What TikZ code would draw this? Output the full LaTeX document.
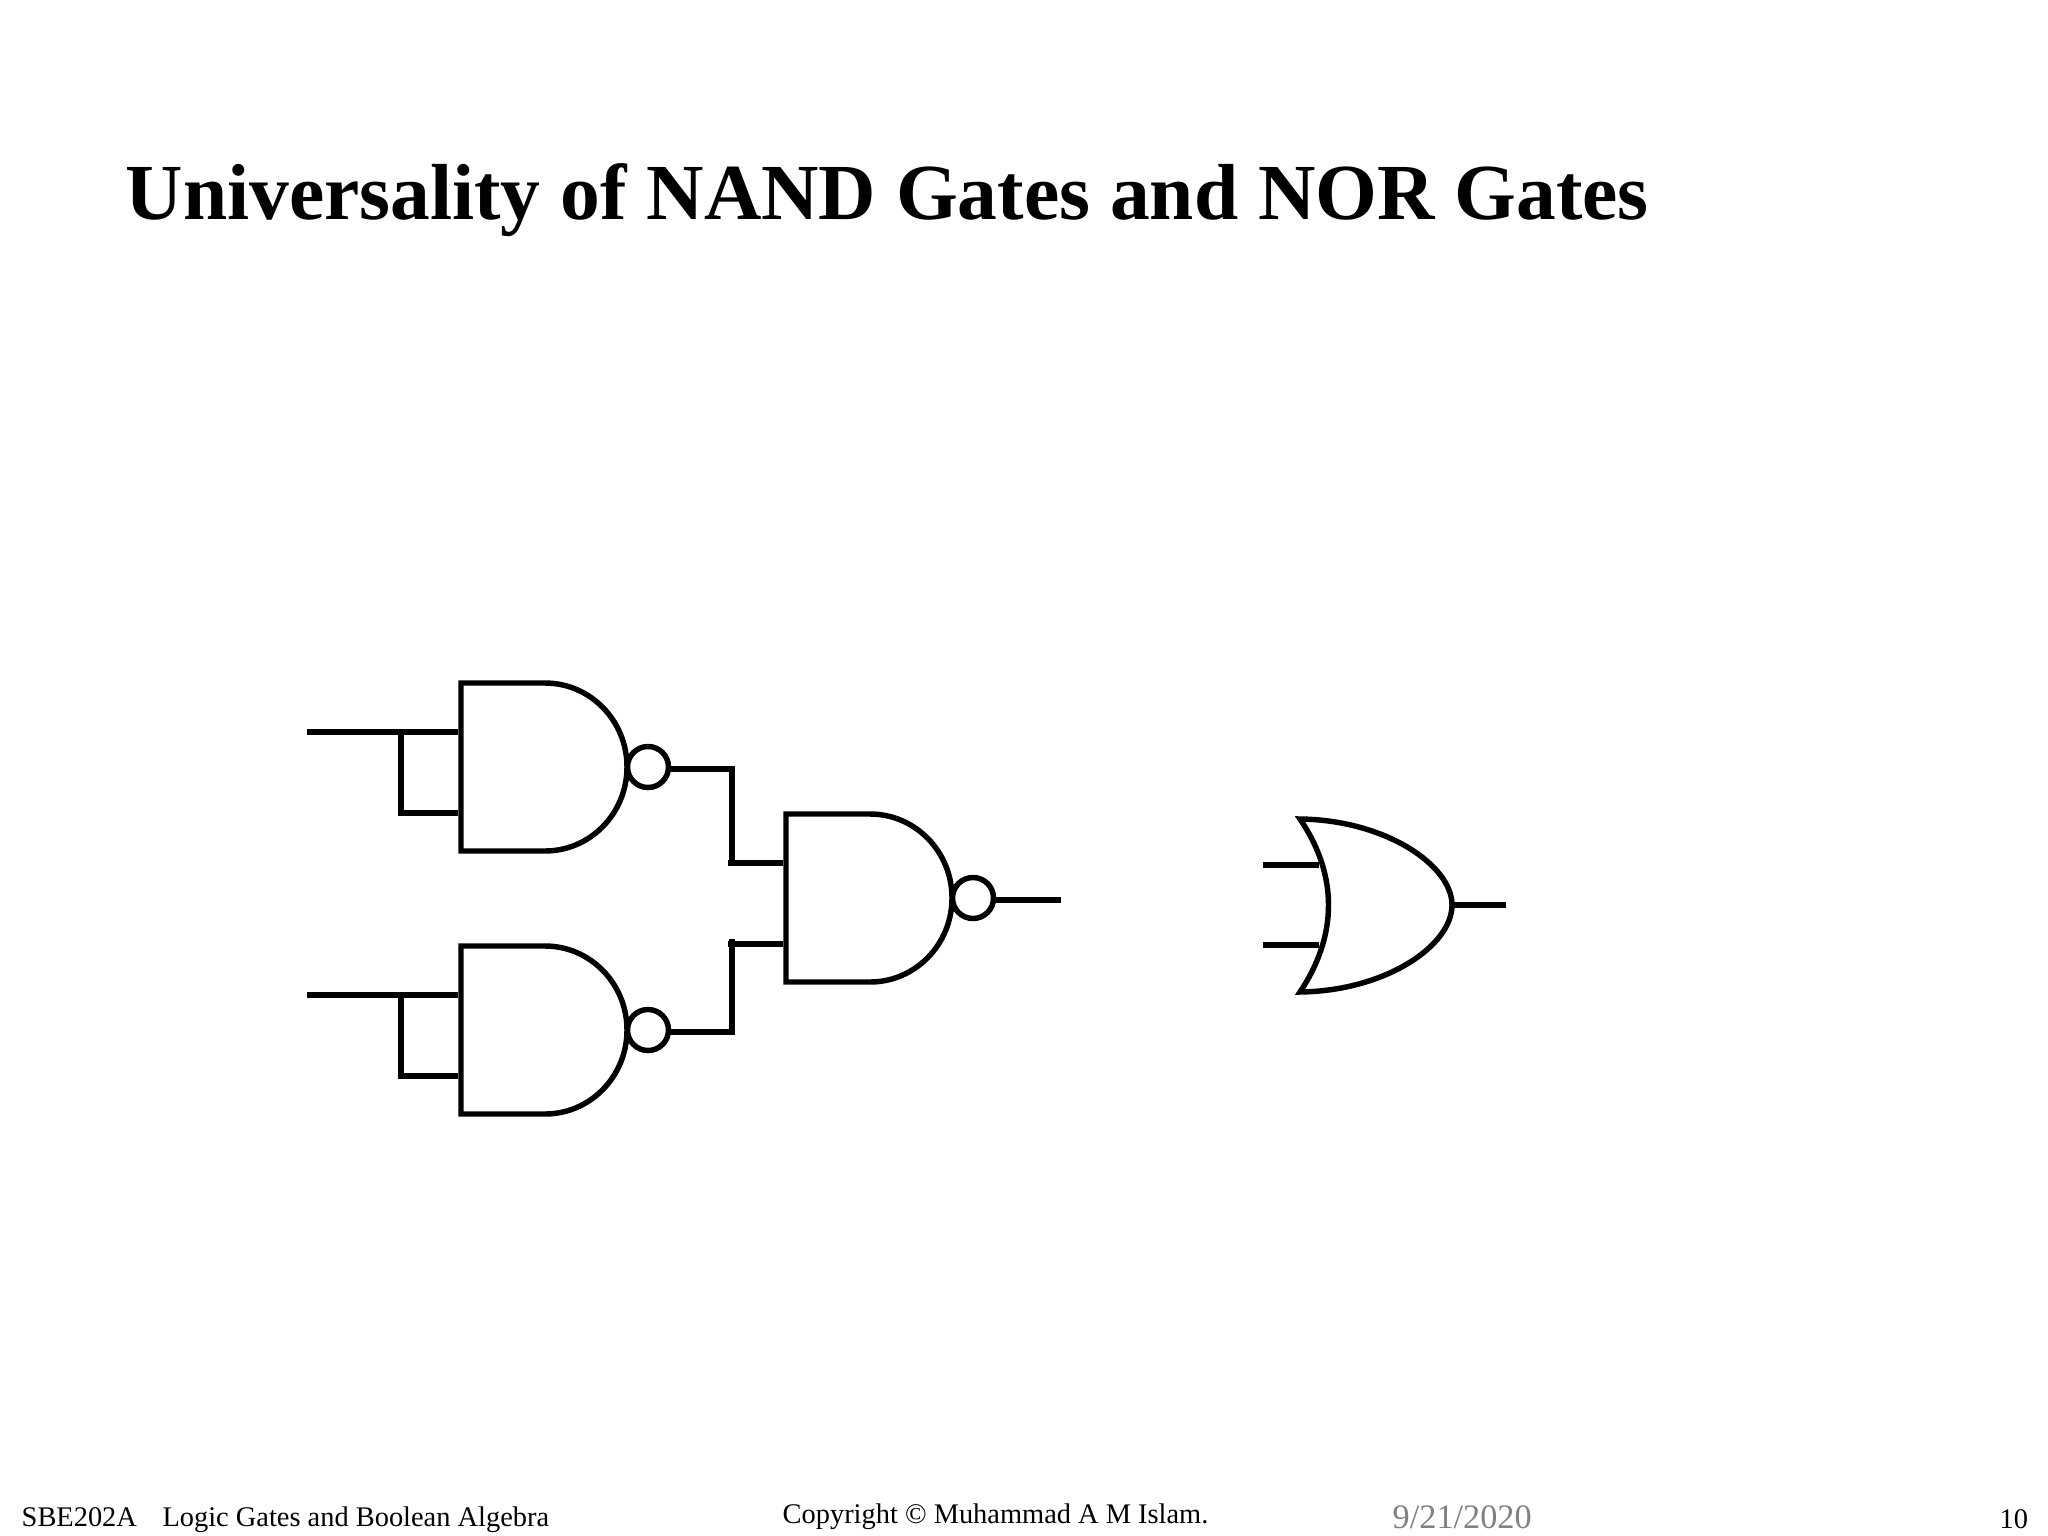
\documentclass[tikz,border=0pt]{standalone}
\usepackage{fontspec}
\setmainfont{Liberation Serif}

\begin{document}
\begin{tikzpicture}[x=0.01cm,y=-0.01cm,
  wire/.style={line width=1.55pt},
  bubble/.style={circle,draw,line width=1.55pt,minimum size=41*0.01cm,inner sep=0pt,outer sep=0pt},
  footer/.style={inner sep=0pt,anchor=base west,font=\fontsize{8.08}{10}\selectfont},
  nandgate/.pic={
    \draw [wire] (0,0) -- (84,0) arc [start angle=-90,end angle=90,x radius=82,y radius=84] -- (0,168) -- cycle;
    \node [bubble] (-bub) at (187,84) {};
    \coordinate (-a) at (-3,49);
    \coordinate (-b) at (-3,130);
    \coordinate (-out) at (208,86);
  },
  orgate/.pic={
    \draw [wire] (0,0) .. controls (85,1) and (152,46) .. (152,86)
      .. controls (152,127) and (85,172) .. (0,173)
      .. controls (38,116) and (38,56) .. cycle;
    \coordinate (-a) at (19,46);
    \coordinate (-b) at (19,126);
    \coordinate (-out) at (152,86);
  }]

  \useasboundingbox (0,0) rectangle (2048,1536);

  % Title

  \node [inner sep=0pt,anchor=base west,font=\fontsize{22.6}{26}\selectfont\bfseries] (title) at (125,219)
    {Universality of NAND Gates and NOR Gates};

  % NAND gates

  \pic (top) at (461,683) {nandgate};
  \pic (bot) at (461,946) {nandgate};
  \pic (last) at (786,814) {nandgate};

  \coordinate (topin) at (307,732);
  \coordinate (topjoin) at (401,732);
  \coordinate (botin) at (307,995);
  \coordinate (botjoin) at (401,995);
  \coordinate (topbend) at (732,769);
  \coordinate (botbend) at (732,1032);
  \coordinate (lastup) at (728,863);
  \coordinate (lastlow) at (728,944);
  \coordinate (botend) at (732,939);
  \coordinate (lastend) at (1061,900);

  \draw [wire] (topin) -- (top-a);
  \draw [wire] (topjoin) |- (top-b);
  \draw [wire] (botin) -- (bot-a);
  \draw [wire] (botjoin) |- (bot-b);

  \draw [wire] (top-out) -- (topbend) -- (topbend |- lastup);
  \draw [wire] (bot-out) -- (botbend) -- (botend);
  \draw [wire] (lastup) -- (last-a);
  \draw [wire] (lastlow) -- (last-b);
  \draw [wire] (last-out) -- (lastend);

  % OR gate

  \pic (orgt) at (1300,819) {orgate};

  \coordinate (orupin) at (1263,865);
  \coordinate (orlowin) at (1263,945);
  \coordinate (orend) at (1506,905);

  \draw [wire] (orupin) -- (orgt-a);
  \draw [wire] (orlowin) -- (orgt-b);
  \draw [wire] (orgt-out) -- (orend);

  % Footer

  \node [footer] (course) at (21,1526) {SBE202A\hspace{0.9em}Logic Gates and Boolean Algebra};
  \node [footer] (copyright) at (782,1523) {Copyright © Muhammad A M Islam.};
  \node [footer,text=gray,font=\fontsize{9.75}{12}\selectfont] (date) at (1392,1528) {9/21/2020};
  \node [footer] (page) at (1999,1528) {10};
\end{tikzpicture}
\end{document}
